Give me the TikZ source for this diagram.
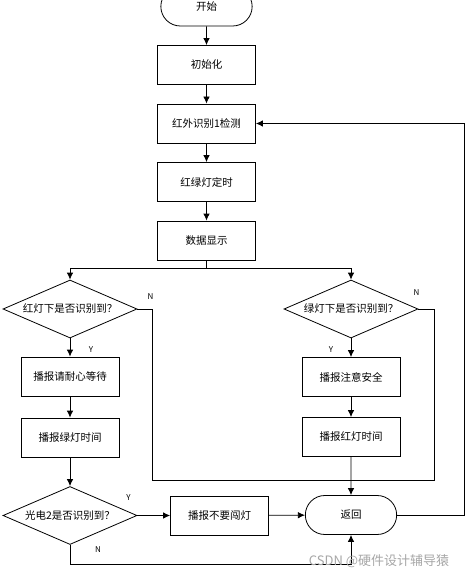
\documentclass[tikz,border=0pt]{standalone}
\usepackage{fontspec}
\setmainfont{Noto Sans CJK SC}
\usetikzlibrary{shapes,arrows.meta,calc}

\begin{document}
\begin{tikzpicture}[x=1pt, y=1pt, auto, node distance=58.5pt,
  >={Latex[length=7pt,width=6.5pt]}, font=\fontsize{10.5}{12}\selectfont]
\tikzset{%
  terminal/.style = {%
    rounded rectangle,
    draw,
    line width=.8pt,
    minimum width = 98pt,
    minimum height = 39pt},
  process/.style = {%
    rectangle,
    draw,
    line width=.8pt,
    minimum width = 98pt,
    minimum height = 39pt},
  decision/.style = {%
    diamond,
    draw,
    line width=.8pt,
    aspect = 2.3,
    inner sep = 0pt,
    minimum width = 134pt,
    minimum height = 58pt},
  flow/.style = {line width=.8pt},
  tag/.style = {font=\fontsize{8}{9}\selectfont}
}

  \useasboundingbox (0,0) rectangle (474,-575);

  \node[terminal] (start) at (206.5,-6.5) {开始};
  \node[process, below of=start] (init) {初始化};
  \node[process, below of=init] (irscan) {红外识别1检测};
  \node[process, below of=irscan] (timer) {红绿灯定时};
  \node[process, below of=timer] (show) {数据显示};

  \node[decision, node distance=68.5pt, below of=show, xshift=-136.5pt]
    (redq) {红灯下是否识别到？};
  \node[decision, node distance=68.5pt, below of=show, xshift=144.5pt]
    (greenq) {绿灯下是否识别到？};

  \node[process, node distance=67.5pt, below of=redq] (wait) {播报请耐心等待};
  \node[process, node distance=61pt, below of=wait] (greentime) {播报绿灯时间};
  \node[decision, node distance=78pt, below of=greentime]
    (photo) {光电2是否识别到？};

  \node[process, node distance=68pt, below of=greenq] (safe) {播报注意安全};
  \node[process, node distance=60pt, below of=safe] (redtime) {播报红灯时间};
  \node[terminal, node distance=78pt, below of=redtime] (back) {返回};

  \node[process, node distance=149.5pt, right of=photo] (norun) {播报不要闯灯};

  \coordinate (split) at ($(show.south)+(0,-7.5)$);
  \coordinate (merge) at ($(redtime.south)+(0,-23)$);

  \draw[flow,->] (start) -- (init);
  \draw[flow,->] (init) -- (irscan);
  \draw[flow,->] (irscan) -- (timer);
  \draw[flow,->] (timer) -- (show);
  \draw[flow] (show) -- (split);
  \draw[flow,->] (split) -| (redq.north);
  \draw[flow,->] (split) -| (greenq.north);

  \draw[flow,->] (redq) -- (wait);
  \draw[flow,->] (wait) -- (greentime);
  \draw[flow,->] (greentime) -- (photo);
  \draw[flow,->] (greenq) -- (safe);
  \draw[flow,->] (safe) -- (redtime);
  \draw[flow,->] (redtime) -- (back);

  \draw[flow] (redq.east) -- +(15,0) |- (merge);
  \draw[flow] (greenq.east) -- +(16,0) |- (merge);

  \draw[flow,->] (photo) -- (norun);
  \draw[flow,->] (norun) -- (back);
  \draw[flow,->] (photo.south) -- +(0,-19.5) -| (back.south);
  \draw[flow,->] (back.east) -- +(67,0) |- (irscan.east);

  \node[tag] (rn) at ($(redq.east)+(13,12)$) {N};
  \node[tag] (gn) at ($(greenq.east)+(-2,16)$) {N};
  \node[tag] (ry) at ($(redq.south)+(21,-11)$) {Y};
  \node[tag] (gy) at ($(greenq.south)+(-20,-11)$) {Y};
  \node[tag] (py) at ($(photo.east)+(-9,17.5)$) {Y};
  \node[tag] (pn) at ($(photo.south)+(28,-5)$) {N};

  \node[text=gray!70, font=\fontsize{13}{14}\selectfont] (mark) at (379,-561)
    {CSDN @硬件设计辅导猿};
\end{tikzpicture}
\end{document}
